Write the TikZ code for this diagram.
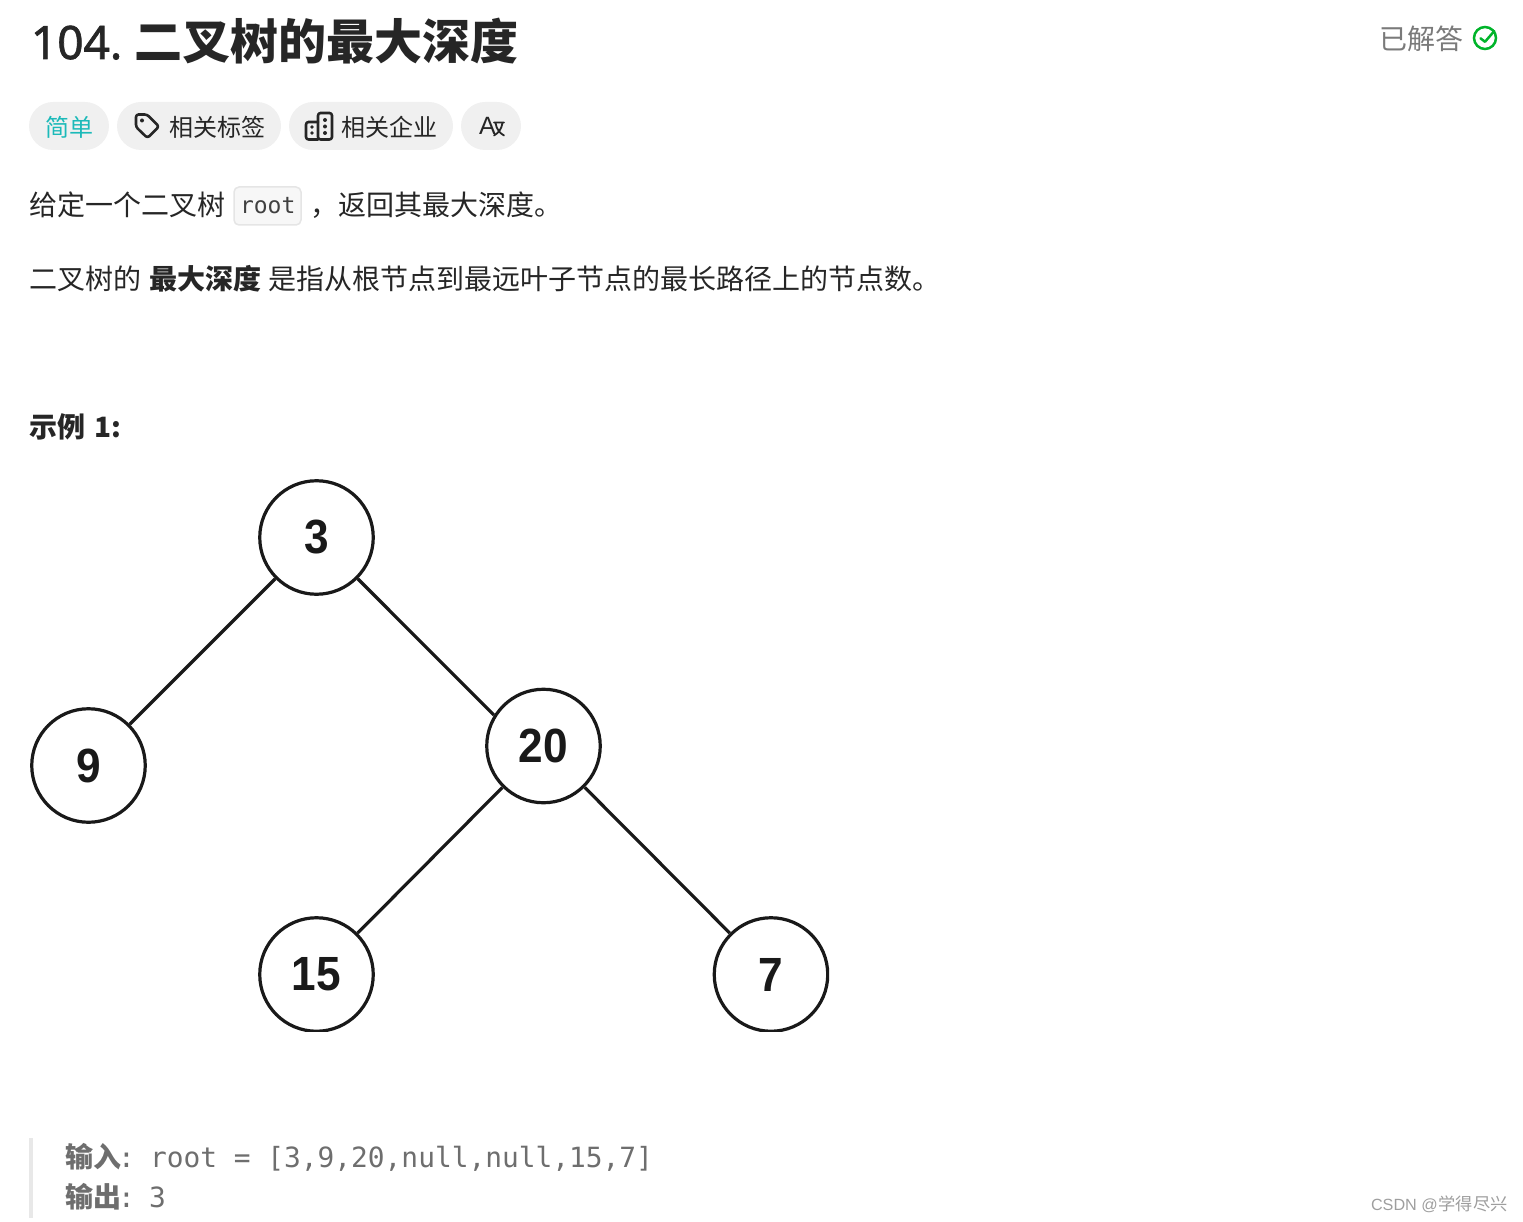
\documentclass[tikz,border=0pt]{standalone}
\usepackage{fontspec}
\setmainfont{Noto Sans CJK SC}
\newfontfamily\latinf[FakeBold=1.6]{Noto Sans}
\newfontfamily\arialf{Liberation Sans}
\newfontfamily\digitf[FakeStretch=0.92]{Liberation Sans}
\newfontfamily\monof{DejaVu Sans Mono}
\newcommand{\fsz}[1]{\fontsize{#1}{#1}\selectfont}
\newcommand{\dgt}[1]{\raisebox{-1pt}{#1}}
\definecolor{ink}{HTML}{262626}
\definecolor{chip}{HTML}{F0F0F0}
\definecolor{teal}{HTML}{1CBAB9}
\definecolor{greyt}{HTML}{7A7A7A}
\definecolor{quote}{HTML}{6E6E6E}
\definecolor{okgreen}{HTML}{00B42A}
\tikzset{
  txt/.style={anchor=base west,inner sep=0pt,outer sep=0pt,text=ink},
  body/.style={txt,font=\fsz{28}},
  bodyb/.style={txt,font=\fsz{28}\bfseries},
  tagt/.style={txt,font=\fsz{24}},
  chipbox/.style={fill=chip,rounded corners=24pt},
  qt/.style={txt,text=quote,font=\fsz{28}\bfseries},
  qm/.style={txt,text=quote,font=\monof\fsz{27.85}},
  tree/.style={circle,draw=black!90,line width=3.2pt,minimum size=113.5pt,inner sep=0pt,font=\digitf\fsz{48}\bfseries,text=black!90,fill=white},
  edge/.style={draw=black!90,line width=3.2pt},
  icon/.style={draw=ink,line width=2.6pt,line join=round,line cap=round}
}
\begin{document}
\begin{tikzpicture}[x=1pt,y=-1pt]
\useasboundingbox (0,0) rectangle (1523,1222);
% title
\node[txt,font=\latinf\fsz{46}] (t1) at (31,59) {104.};
\node[txt,font=\fsz{48}\bfseries] (t2) at (134,60) {二叉树的最大深度};
\node[txt,text=greyt,font=\fsz{28}] (done) at (1379.5,50) {已解答};
\draw[okgreen,line width=2.5pt] (1485,38) circle (11);
\draw[okgreen,line width=2.5pt,line cap=round,line join=round] (1480.5,38.3) -- (1485,41.8) -- (1494.3,31);
% chips
\fill[chipbox] (29,102) rectangle (109,150);
\fill[chipbox] (117,102) rectangle (281,150);
\fill[chipbox] (289,102) rectangle (453,150);
\fill[chipbox] (461,102) rectangle (521,150);
\node[tagt,text=teal] (c1) at (45,137) {简单};
\node[tagt] (c2) at (169,137) {相关标签};
\node[tagt] (c3) at (341,137) {相关企业};
\node[txt,font=\arialf\fsz{25}] (c4) at (479,135) {A};
% Ax small glyph
\draw[ink,line width=1.8pt,line cap=round] (494,122.5) -- (504,122.5) (495.5,123) .. controls (496.5,129) and (499.5,133) .. (504,135.5) (502.5,123) .. controls (501.5,129) and (498.5,133) .. (494,135.5);
% tag icon
\draw[icon,rounded corners=2.5pt] (136,114.5) -- (147,114.5) -- (159,126.5) -- (147.5,138) -- (136,127) -- cycle;
\fill[ink] (142,120.5) circle (2);
% building icon
\draw[icon,rounded corners=2.5pt] (318,113) rectangle (332,139.5);
\draw[icon,rounded corners=2.5pt] (318,122) -- (306,122) -- (306,139.5) -- (318,139.5);
\foreach \yy in {120,126.5,133} \fill[ink] (325,\yy) circle (2);
\foreach \yy in {127,133} \fill[ink] (312,\yy) circle (1.8);
% paragraph 1
\node[body] (p1) at (29,216) {给定一个二叉树};
\draw[fill=black!3,draw=black!10,line width=1.5pt,rounded corners=5pt] (234,187) rectangle (301,225);
\node[txt,font=\monof\fsz{23},text=black!75] (rt) at (240,214) {root};
\node[body] (p1c) at (310,216) {，};
\node[body] (p1b) at (338,216) {返回其最大深度。};
% paragraph 2
\node[body] (p2) at (29,290) {二叉树的};
\node[bodyb] (p2b) at (149,290) {最大深度};
\node[body] (p2c) at (268,290) {是指从根节点到最远叶子节点的最长路径上的节点数。};
% example
\node[bodyb] (ex) at (29,437) {示例};
\node[txt,font=\fsz{28}\bfseries] (ex1) at (94,437) {1:};
% tree
\begin{scope}
\clip (0,470) rectangle (829,1031);
\node[tree] (n3) at (316.5,537.5) {\dgt{3}};
\node[tree] (n9) at (88.5,765.5) {\dgt{9}};
\node[tree] (n20) at (543.5,746) {\dgt{20}};
\node[tree] (n15) at (316.5,974.5) {15};
\node[tree] (n7) at (771,974.5) {7};
\draw[edge] (n3) -- (n9);
\draw[edge] (n3.-45) -- (n20.148);
\draw[edge] (n20) -- (n15);
\draw[edge] (n20) -- (n7);
\end{scope}
% quote
\fill[black!9] (29,1138) rectangle (33,1218);
\node[qt] (q1) at (65,1167.5) {输入};
\node[qm] (q1c) at (118,1167.5) {:};
\node[qm] (q1t) at (150,1167.5) {root = [3,9,20,null,null,15,7]};
\node[qt] (q2) at (65,1207.5) {输出};
\node[qm] (q2c) at (118,1207.5) {:};
\node[qm] (q2t) at (149,1207.5) {3};
% watermark
\node[txt,text=black!38,font=\arialf\fsz{16.2}] (w1) at (1371,1210) {CSDN @};
\node[txt,text=black!38,font=\fsz{17.25}] (w2) at (1438.5,1210) {学得尽兴};
\end{tikzpicture}
\end{document}
